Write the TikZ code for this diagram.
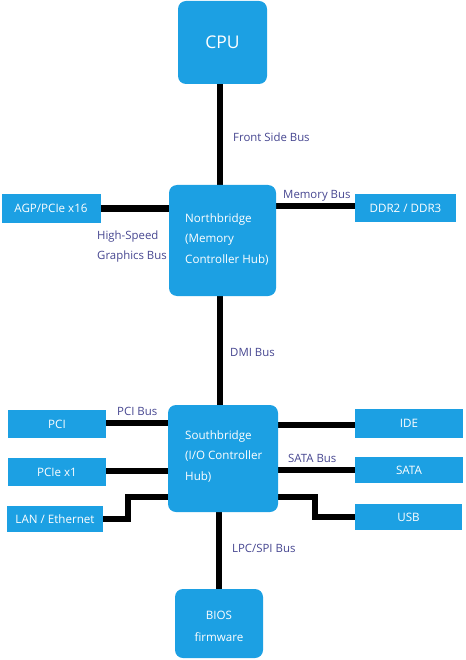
\documentclass[tikz,border=0pt]{standalone}
\usepackage{fontspec}
\setmainfont{Open Sans}
\usetikzlibrary{backgrounds}
\definecolor{boxblue}{HTML}{1CA0E3}
\definecolor{labelblue}{HTML}{464690}
\begin{document}
\begin{tikzpicture}[x=1pt,y=-1pt,
  box/.style={fill=boxblue,text=white,inner sep=0pt,font=\fontsize{11.6}{14}\selectfont},
  hub/.style={box,rounded corners=8pt},
  hubtext/.style={text=white,inner sep=0pt,align=left,font=\fontsize{11.6}{20.7}\selectfont},
  bus/.style={line width=6.5pt,line cap=round},
  lbl/.style={text=labelblue,inner sep=0pt,anchor=west,font=\fontsize{11.4}{20}\selectfont,align=left}]
\useasboundingbox (0,0) rectangle (465,660);
% hubs
\node[hub,minimum width=89pt,minimum height=83pt,font=\fontsize{17.5}{20}\selectfont] (cpu) at (222.5,42.5) {CPU};
\node[hub,minimum width=107pt,minimum height=111pt] (nb) at (222.5,240.5) {};
\node[hubtext,anchor=west] (nbtext) at (185,239.5) {Northbridge\\(Memory\\Controller Hub)};
\node[hub,minimum width=110pt,minimum height=107pt] (sb) at (223,458.5) {};
\node[hubtext,anchor=west] (sbtext) at (185,456.5) {Southbridge\\(I/O Controller\\Hub)};
\node[hub,minimum width=88pt,minimum height=69pt] (bios) at (219,623.5) {};
\node[hubtext,align=center,font=\fontsize{11.6}{22}\selectfont] (biostext) at (219,626.5) {BIOS\\firmware};
% peripherals
\node[box,minimum width=99pt,minimum height=29pt] (agp) at (51,208.5) {AGP/PCIe x16};
\node[box,minimum width=101pt,minimum height=28pt] (ddr) at (405.5,208) {DDR2 / DDR3};
\node[box,minimum width=98pt,minimum height=28pt] (pci) at (57,424) {PCI};
\node[box,minimum width=98pt,minimum height=28pt] (pcie) at (57,472) {PCIe x1};
\node[box,minimum width=96pt,minimum height=26pt] (lan) at (55,519) {LAN / Ethernet};
\node[box,minimum width=108pt,minimum height=29pt] (ide) at (409,423.5) {IDE};
\node[box,minimum width=108pt,minimum height=26pt] (sata) at (409,470) {SATA};
\node[box,minimum width=107pt,minimum height=26pt] (usb) at (408.5,517) {USB};
% bend points
\coordinate (lanA) at (128,519);
\coordinate (lanB) at (128,497);
\coordinate (usbA) at (315,497);
\coordinate (usbB) at (315,517);
% connectors
\begin{pgfonlayer}{background}
\draw[bus] ([xshift=-2.5pt]cpu.south) -- ([xshift=-2.5pt]cpu.south |- nb.north);
\draw[bus] ([xshift=-2.5pt]nb.south) -- ([xshift=-2.5pt]nb.south |- sb.north);
\draw[bus] (bios.north |- sb.south) -- (bios.north);
\draw[bus] (agp.east) -- (agp.east -| nb.west);
\draw[bus] ([yshift=2pt]ddr.west) -- ([yshift=2pt]ddr.west -| nb.east);
\draw[bus] ([yshift=1pt]pci.east) -- ([yshift=1pt]pci.east -| sb.west);
\draw[bus] ([yshift=1pt]pcie.east) -- ([yshift=1pt]pcie.east -| sb.west);
\draw[bus] (lan.east) -- (lanA) -- (lanB) -- (lanB -| sb.west);
\draw[bus] ([yshift=-1.5pt]ide.west) -- ([yshift=-1.5pt]ide.west -| sb.east);
\draw[bus] (sata.west) -- (sata.west -| sb.east);
\draw[bus] (usbA -| sb.east) -- (usbA) -- (usbB) -- (usb.west);
\end{pgfonlayer}
% labels
\node[lbl] (fsb) at (233,137) {Front Side Bus};
\node[lbl] (memb) at (283,196) {Memory Bus};
\node[lbl] (hsg) at (97,247) {High-Speed\\Graphics Bus};
\node[lbl] (dmi) at (230,352) {DMI Bus};
\node[lbl] (pcib) at (117,411) {PCI Bus};
\node[lbl] (satab) at (288,458) {SATA Bus};
\node[lbl] (lpc) at (232,548) {LPC/SPI Bus};
\end{tikzpicture}
\end{document}
